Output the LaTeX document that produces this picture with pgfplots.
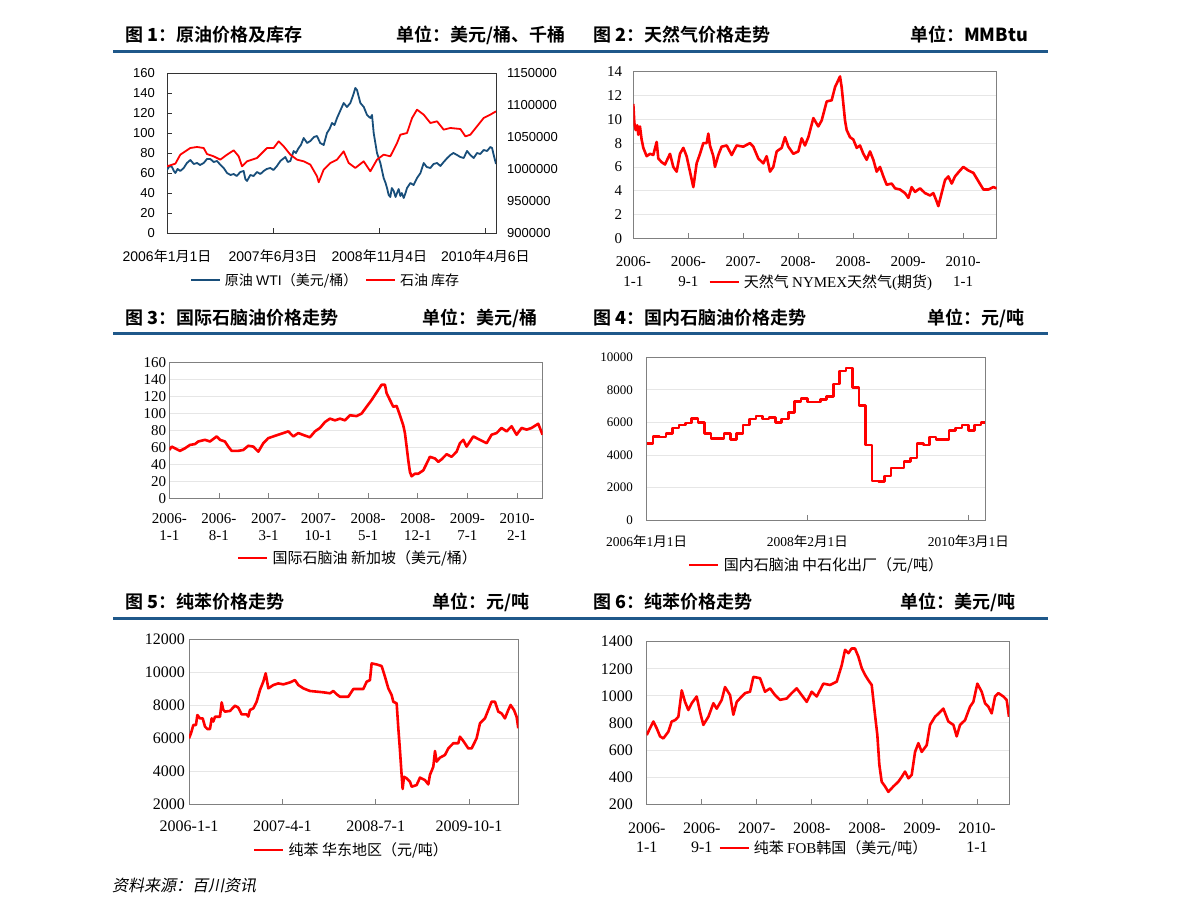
\documentclass[border=0pt]{standalone}
\usepackage{fontspec}
\usepackage{pgfplots}
\pgfplotsset{compat=1.18}
\setmainfont{Liberation Serif}
\IfFontExistsTF{FandolSong-Regular.otf}{\newfontfamily\song{FandolSong-Regular.otf}}{\newfontfamily\song{Noto Sans CJK SC}}
\IfFontExistsTF{FandolHei-Bold.otf}{\newfontfamily\heib{FandolHei-Bold.otf}}{\newfontfamily\heib{Noto Sans CJK SC Bold}}
\newfontfamily\lsans{Liberation Sans}
\newcommand\fs[1]{\fontsize{#1}{#1}\selectfont}
\newcommand\ymdA[3]{{\lsans #1}年{\lsans #2}月{\lsans #3}日}
\newcommand\ymdB[3]{#1{\song 年}#2{\song 月}#3{\song 日}}
\definecolor{hdrblue}{RGB}{31,88,138}
\definecolor{wtiblue}{RGB}{24,78,122}
\definecolor{axgray}{RGB}{128,128,128}
\definecolor{gridgray}{RGB}{230,230,230}
\pgfplotsset{
  base/.style={
    scale only axis, anchor=south west, clip=true,
    tick align=inside, xtick pos=left, major tick length=5pt,
    scaled y ticks=false, scaled x ticks=false,
    yticklabel style={/pgf/number format/1000 sep={}, /pgf/number format/fixed, /pgf/number format/assume math mode=true, inner sep=0pt},
    xticklabel style={inner sep=0pt, align=center},
    legend style={draw=none, fill=none, inner sep=0pt, nodes={inner sep=0pt}, anchor=west,
      /tikz/every odd column/.append style={column sep=4pt}},
    legend image code/.code={\draw[##1] (0pt,0pt) -- (29pt,0pt);},
    every axis plot/.append style={line join=round},
  },
  panel/.style={base,
    axis line style={axgray, line width=1pt},
    ymajorgrids, grid style={gridgray, line width=0.8pt},
    ytick style={draw=none},
    xtick style={axgray, line width=0.8pt},
    legend style={font=\song\fs{15}},
  },
  redline/.style={red, line width=2.6pt},
}
\begin{document}
\begin{tikzpicture}
\useasboundingbox (0,0) rectangle (1191pt,-915pt);
\fill[white] (0,0) rectangle (1191pt,-915pt);
% ---------- headers ----------
\foreach \yy in {51.5,333,618}{\draw[hdrblue, line width=3pt] (113pt,-\yy pt) -- (1048pt,-\yy pt);}
\node[anchor=west, inner sep=0] at (125pt,-35pt) {\heib\fs{18}图 {\bfseries 1}：原油价格及库存};
\node[anchor=east, inner sep=0] at (566pt,-35pt) {\heib\fs{18}单位：美元/桶、千桶};
\node[anchor=west, inner sep=0] at (593pt,-35pt) {\heib\fs{18}图 {\bfseries 2}：天然气价格走势};
\node[anchor=east, inner sep=0] at (1028pt,-35pt) {\heib\fs{18}单位：{\bfseries MMBtu}};
\node[anchor=west, inner sep=0] at (125pt,-318pt) {\heib\fs{18}图 {\bfseries 3}：国际石脑油价格走势};
\node[anchor=east, inner sep=0] at (538pt,-318pt) {\heib\fs{18}单位：美元/桶};
\node[anchor=west, inner sep=0] at (593pt,-318pt) {\heib\fs{18}图 {\bfseries 4}：国内石脑油价格走势};
\node[anchor=east, inner sep=0] at (1025pt,-318pt) {\heib\fs{18}单位：元/吨};
\node[anchor=west, inner sep=0] at (125pt,-602pt) {\heib\fs{18}图 {\bfseries 5}：纯苯价格走势};
\node[anchor=east, inner sep=0] at (530pt,-602pt) {\heib\fs{18}单位：元/吨};
\node[anchor=west, inner sep=0] at (593pt,-602pt) {\heib\fs{18}图 {\bfseries 6}：纯苯价格走势};
\node[anchor=east, inner sep=0] at (1016pt,-602pt) {\heib\fs{18}单位：美元/吨};
\node[anchor=west, inner sep=0, xslant=0.2, transform shape] at (113pt,-886pt) {\song\fs{16}资料来源：百川资讯};
% ---------- Panel 1 ----------
\begin{axis}[base, at={(167pt,-233pt)}, width=329pt, height=160pt,
  xmin=0, xmax=52.83, ymin=0, ymax=160, ytick={0,20,...,160},
  axis line style={black!80, line width=0.8pt}, tick style={black!80, line width=0.8pt},
  ytick pos=left,
  xtick={0,17.02,34.10,51.12},
  xticklabels={\ymdA{2006}{1}{1},\ymdA{2007}{6}{3},\ymdA{2008}{11}{4},\ymdA{2010}{4}{6}},
  xticklabel style={font=\song\fs{14}}, xticklabel shift=16pt,
  yticklabel style={font=\lsans\fs{13}}, yticklabel shift=12pt,
  legend columns=2,
  legend style={at={(0.0699,-0.294)}, anchor=west, font=\song\fs{14},
    /tikz/every even column/.append style={column sep=8pt}},
]
\addplot[wtiblue, line width=1.8pt] coordinates {
(0,63) (0.4,67) (0.8,66) (1.1,62) (1.34,60) (1.7,64) (2.14,62) (2.68,65) (3.2,70) (3.75,73) (4.3,69) (4.82,70) (5.3,68)
(5.89,70) (6.42,74) (6.96,74) (7.5,71) (8.03,72) (8.6,68) (9.10,65) (9.64,60) (10.2,58) (10.71,59) (11.2,57) (11.78,61)
(12.31,62) (12.58,54) (12.85,52) (13.38,58) (13.9,57) (14.45,61) (15.0,59) (15.52,62) (16.0,64) (16.59,65) (17.1,63)
(17.66,67) (18.20,72) (19.00,76) (19.4,71) (19.81,72) (20.34,82) (20.7,80) (21.14,85) (21.5,88) (21.95,95) (22.5,90)
(23.02,92) (23.6,96) (24.09,97) (24.6,90) (25.16,88) (25.69,100) (26.1,104) (26.50,110) (26.9,108) (27.30,115) (27.8,122)
(28.37,130) (28.9,126) (29.44,130) (29.9,138) (30.24,145) (30.51,143) (30.8,136) (31.05,130) (31.6,126) (32.12,118)
(32.65,115) (32.92,118) (33.19,100) (33.72,80) (34.26,70) (34.79,55) (35.1,50) (35.33,45) (35.6,38) (35.86,36) (36.1,45)
(36.40,42) (36.7,36) (36.94,40) (37.2,44) (37.47,37) (37.7,40) (38.01,35) (38.3,40) (38.54,45) (39.08,50) (39.6,48)
(40.15,55) (40.7,60) (41.22,70) (41.7,66) (42.29,65) (42.8,69) (43.36,70) (43.9,67) (44.43,71) (45.0,75) (45.50,78)
(46.0,80) (46.57,78) (47.1,76) (47.64,75) (48.18,82) (48.7,78) (49.25,75) (49.78,80) (50.3,79) (50.85,83) (51.4,82)
(51.92,86) (52.2,85) (52.46,78) (52.83,69)};
\addlegendentry{原油 {\lsans WTI}（美元/桶）}
\addlegendimage{red, line width=1.8pt}
\addlegendentry{石油 库存}
\end{axis}
\begin{axis}[base, at={(167pt,-233pt)}, width=329pt, height=160pt,
  xmin=0, xmax=52.83, ymin=900000, ymax=1150000,
  ytick={900000,950000,1000000,1050000,1100000,1150000},
  yticklabels={900000,950000,1000000,1050000,1100000,1150000},
  axis y line*=right, axis x line=none, ytick style={draw=none},
  axis line style={black!80, line width=0.8pt},
  yticklabel style={font=\lsans\fs{13}}, yticklabel shift=11pt,
]
\addplot[red, line width=1.8pt] coordinates {
(0,1004200) (1.34,1008300) (2.14,1022400) (3.75,1032800) (4.82,1034400) (5.89,1032800) (6.42,1023400) (7.49,1019800)
(8.56,1014600) (9.64,1022400) (10.71,1029200) (11.51,1019800) (12.04,1004200) (12.85,1012000) (14.45,1017200)
(16.06,1032800) (17.13,1032800) (17.93,1043200) (18.74,1035400) (19.81,1022400) (20.88,1014600) (21.95,1012000)
(23.02,1006800) (24.09,988500) (24.36,979200) (25.16,999000) (26.23,1009400) (27.30,1014600) (28.37,1027600)
(29.17,1009400) (30.24,1001600) (31.58,1012000) (32.65,996400) (33.72,1014600) (34.79,1022400) (35.86,1019800)
(36.40,1030200) (36.94,1040600) (37.47,1053600) (38.54,1056200) (39.35,1079700) (40.15,1092700) (41.22,1084900)
(42.29,1071900) (43.36,1074500) (44.43,1061500) (45.50,1064100) (47.11,1062500) (47.91,1051000) (48.71,1053600)
(49.78,1066700) (50.85,1079700) (51.92,1084900) (52.83,1090100)};
\end{axis}
% ---------- Panel 2 ----------
\begin{axis}[panel, at={(633.3pt,-238.3pt)}, width=363.4pt, height=166.6pt,
  xmin=0, xmax=52.9, ymin=0, ymax=14, ytick={0,2,...,14},
  xtick={0,8,16,24,32,40,48},
  xticklabels={{2006-\\1-1},{2006-\\9-1},{2007-},{2008-},{2008-},{2009-},{2010-\\1-1}},
  xticklabel style={font=\fontsize{15}{20}\selectfont}, xticklabel shift=18pt,
  yticklabel style={font=\fs{15}}, yticklabel shift=11pt,
  legend style={at={(0.2056,-0.262)}},
]
\addplot[redline] coordinates {
(0,11.3) (0.15,9.7) (0.34,9.1) (0.58,9.5) (0.73,8.7) (0.97,9.4) (1.21,8.3) (1.46,7.6) (1.94,6.9) (2.43,7.1) (2.91,7.0)
(3.40,8.1) (3.64,6.7) (4.13,6.4) (4.61,6.2) (5.34,7.1) (5.82,6.0) (6.31,5.6) (6.79,7.1) (7.28,7.6) (7.76,6.9) (8.25,5.6)
(8.74,4.3) (9.22,6.3) (9.71,7.1) (10.19,8.0) (10.68,8.0) (10.92,8.8) (11.16,7.8) (11.65,6.9) (11.89,6.0) (12.38,7.0)
(12.86,7.7) (13.59,7.8) (14.32,7.0) (15.04,7.8) (16.01,7.7) (16.99,8.0) (17.47,7.7) (18.20,6.7) (18.93,6.3) (19.41,6.9)
(19.90,5.6) (20.38,6.0) (20.87,7.3) (21.60,7.6) (22.08,8.5) (22.57,7.7) (23.29,7.1) (24.02,7.3) (24.51,8.4) (24.99,7.8)
(25.48,8.5) (26.21,10.1) (26.93,9.4) (27.42,9.9) (28.15,11.5) (28.88,11.6) (29.36,12.7) (30.09,13.6) (30.33,12.7)
(30.82,9.9) (31.06,9.1) (31.54,8.5) (32.03,8.3) (32.52,7.6) (33.00,7.8) (33.49,7.1) (33.97,6.6) (34.46,7.3) (34.94,6.6)
(35.43,5.6) (35.91,6.0) (36.40,5.2) (36.88,4.5) (37.61,4.6) (38.10,4.2) (38.82,4.1) (39.55,3.8) (40.04,3.4) (40.52,4.3)
(41.01,3.9) (41.74,4.2) (42.46,3.8) (43.19,3.6) (43.68,3.8) (44.16,3.1) (44.40,2.7) (44.89,3.8) (45.38,4.9) (45.86,5.2)
(46.35,4.6) (46.83,5.2) (47.56,5.7) (48.04,6.0) (48.77,5.7) (49.50,5.5) (50.23,4.8) (50.96,4.1) (51.68,4.1) (52.41,4.3)
(52.90,4.2)};
\addlegendentry{天然气 {\rmfamily NYMEX}天然气{\rmfamily (}期货{\rmfamily )}}
\end{axis}
% ---------- Panel 3 ----------
\begin{axis}[panel, at={(169.3pt,-498.3pt)}, width=373.4pt, height=135.6pt,
  xmin=0, xmax=52.6, ymin=0, ymax=160, ytick={0,20,...,160},
  xtick={0,7,14,21,28,35,42,49},
  xticklabels={{2006-\\1-1},{2006-\\8-1},{2007-\\3-1},{2007-\\10-1},{2008-\\5-1},{2008-\\12-1},{2009-\\7-1},{2010-\\2-1}},
  xticklabel style={font=\fontsize{15}{17}\selectfont}, xticklabel shift=15pt,
  yticklabel style={font=\fs{15}}, yticklabel shift=3pt,
  legend style={at={(0.181,-0.440)}},
]
\addplot[redline] coordinates {
(0,57) (0.33,61) (0.80,59) (1.50,56) (2.21,59) (2.91,63) (3.62,64) (4.08,67) (5.02,69) (5.73,67) (6.67,73) (7.14,69)
(7.84,67) (8.31,61) (8.78,56) (9.72,56) (10.42,57) (11.13,62) (11.83,61) (12.54,55) (13.24,65) (13.94,71) (14.65,73)
(15.35,75) (16.06,77) (16.76,79) (17.47,73) (18.17,77) (19.11,74) (19.81,72) (20.52,79) (21.22,83) (21.93,90) (22.63,94)
(23.33,92) (24.04,94) (24.74,92) (25.45,98) (26.39,97) (27.09,100) (27.79,108) (28.50,116) (28.97,122) (29.44,128)
(29.91,134) (30.38,134) (30.61,124) (31.08,116) (31.55,108) (32.02,109) (32.49,98) (32.96,86) (33.19,77) (33.43,61)
(33.66,45) (33.90,31) (34.13,26) (34.60,29) (35.07,29) (35.78,33) (36.25,41) (36.71,49) (37.42,47) (37.89,43) (38.36,46)
(39.06,52) (39.77,49) (40.47,55) (40.94,65) (41.41,69) (41.88,61) (42.35,67) (42.82,73) (43.76,69) (44.70,65) (45.40,75)
(46.10,77) (46.81,83) (47.51,79) (48.22,85) (48.92,75) (49.63,83) (50.33,81) (51.03,83) (51.97,88) (52.30,81) (52.58,75)};
\addlegendentry{国际石脑油 新加坡（美元/桶）}
\end{axis}
% ---------- Panel 4 ----------
\begin{axis}[panel, at={(646.7pt,-520pt)}, width=338.3pt, height=162.7pt,
  xmin=0, xmax=52.6, ymin=0, ymax=10000, ytick={0,2000,...,10000},
  xtick={0,25,50},
  xticklabels={\ymdB{2006}{1}{1},\ymdB{2008}{2}{1},\ymdB{2010}{3}{1}},
  xticklabel style={font=\fs{13.5}}, xticklabel shift=15pt,
  yticklabel style={font=\fs{13}}, yticklabel shift=13.7pt,
  legend style={at={(0.122,-0.277)}},
]
\addplot[redline, const plot] coordinates {
(0,4700) (1,5150) (2,5100) (3,5300) (4,5650) (5,5850) (6,5950) (7,6250) (8,6000) (9,5300) (10,5000) (11,5000) (12,5300)
(13,4950) (14,5300) (15,5850) (16,6200) (17,6400) (18,6200) (19,6300) (20,6000) (21,6200) (22,6600) (23,7300) (24,7450)
(25,7250) (26,7250) (27,7400) (28,7600) (29,8350) (30,9150) (31,9350) (32,8150) (33,7050) (34,4600) (35,2400) (36,2350)
(37,2700) (38,3200) (39,3200) (40,3600) (41,3800) (42,4700) (43,4600) (44,5100) (45,4950) (46,4950) (47,5500) (48,5650)
(49,5850) (50,5500) (51,5850) (52,6000) (52.6,6000)};
\addlegendentry{国内石脑油 中石化出厂（元/吨）}
\end{axis}
% ---------- Panel 5 ----------
\begin{axis}[panel, at={(189pt,-804pt)}, width=329.3pt, height=165pt,
  xmin=0, xmax=52.92, ymin=2000, ymax=12000, ytick={2000,4000,...,12000},
  xtick={0,15,30,45},
  xticklabels={2006-1-1,2007-4-1,2008-7-1,2009-10-1},
  xticklabel style={font=\fs{16}}, xticklabel shift=17pt,
  yticklabel style={font=\fs{16}}, yticklabel shift=4pt,
  legend style={at={(0.194,-0.279)}},
]
\addplot[redline] coordinates {
(0.00,5980) (0.32,6280) (0.70,6790) (1.12,6790) (1.34,7390) (1.77,7190) (2.20,7190) (2.57,6690) (2.95,6545) (3.37,6545)
(3.64,7190) (3.91,7000) (4.18,7290) (4.98,7290) (5.25,8160) (5.52,7700) (5.78,7600) (6.59,7640) (7.39,7960) (7.93,7840)
(8.46,7430) (9.27,7430) (9.53,7300) (9.80,7700) (10.34,7800) (10.87,8200) (11.41,8910) (11.94,9410) (12.32,9920)
(12.75,9010) (13.55,9210) (14.35,9310) (15.16,9250) (16.23,9370) (17.03,9510) (17.57,9210) (18.37,9010) (19.44,8850)
(20.51,8810) (21.58,8770) (22.66,8710) (23.19,8850) (23.73,8650) (24.26,8500) (25.60,8500) (26.41,8970) (28.01,8970)
(28.55,9410) (29.08,9510) (29.35,10520) (30.15,10460) (30.96,10360) (31.49,9720) (32.03,9010) (32.56,8610) (32.83,8200)
(33.37,8100) (33.64,6590) (33.90,5270) (34.17,3760) (34.33,2910) (34.55,3650) (34.97,3560) (35.51,3350) (35.78,3050)
(36.58,3150) (37.12,3600) (37.92,3450) (38.46,3190) (38.72,3760) (39.26,4260) (39.53,5210) (39.80,4570) (40.33,4810)
(41.13,4970) (41.67,5370) (42.47,5680) (43.28,5680) (43.54,6080) (44.08,5820) (44.88,5370) (45.42,5370) (46.22,5980)
(46.76,6890) (47.56,7190) (48.10,7700) (48.63,8200) (49.17,8200) (49.70,7600) (50.24,7490) (50.77,7190) (51.31,7700)
(51.68,8000) (52.22,7700) (52.65,7290) (52.92,6590)};
\addlegendentry{纯苯 华东地区（元/吨）}
\end{axis}
% ---------- Panel 6 ----------
\begin{axis}[panel, at={(646.7pt,-804pt)}, width=362.3pt, height=162.3pt,
  xmin=0, xmax=52.64, ymin=200, ymax=1400, ytick={200,400,...,1400},
  xtick={0,8,16,24,32,40,48},
  xticklabels={{2006-\\1-1},{2006-\\9-1},{2007-},{2008-},{2008-},{2009-},{2010-\\1-1}},
  xticklabel style={font=\fontsize{16}{19}\selectfont}, xticklabel shift=18.5pt,
  yticklabel style={font=\fs{16}}, yticklabel shift=13.7pt,
  legend style={at={(0.197,-0.271)}},
]
\addplot[redline] coordinates {
(0,710) (0.48,760) (0.97,810) (1.45,760) (1.94,700) (2.42,685) (3.15,735) (3.63,810) (4.12,820) (4.60,845) (5.09,1040)
(5.57,955) (6.05,895) (6.54,945) (7.26,995) (7.75,880) (8.23,785) (8.96,845) (9.69,945) (10.17,905) (10.90,970)
(11.38,1065) (12.11,1005) (12.59,860) (13.08,955) (13.80,995) (14.29,1020) (15.01,1030) (15.50,1140) (16.47,1130)
(17.19,1030) (17.92,1055) (18.65,1005) (19.37,970) (20.34,980) (21.07,1020) (21.79,1055) (22.52,1005) (23.25,955)
(23.97,1030) (24.70,995) (25.67,1090) (26.64,1080) (27.61,1105) (28.33,1225) (28.82,1340) (29.30,1315) (29.78,1350)
(30.26,1350) (30.75,1290) (31.24,1205) (31.72,1155) (32.21,1115) (32.69,1080) (33.17,860) (33.51,710) (33.80,490)
(34.14,365) (34.63,330) (35.11,290) (35.84,330) (36.56,365) (37.05,400) (37.53,440) (38.02,390) (38.50,415) (38.99,585)
(39.47,650) (39.96,585) (40.68,635) (41.17,785) (41.89,845) (42.62,880) (43.10,905) (43.83,810) (44.56,785) (45.04,700)
(45.52,785) (46.25,820) (46.98,920) (47.46,955) (48.04,1090) (48.67,1030) (49.16,945) (49.64,920) (50.12,870) (50.61,995)
(51.09,1020) (51.82,995) (52.30,970) (52.64,845)};
\addlegendentry{纯苯 {\rmfamily FOB}韩国（美元/吨）}
\end{axis}
\end{tikzpicture}
\end{document}
